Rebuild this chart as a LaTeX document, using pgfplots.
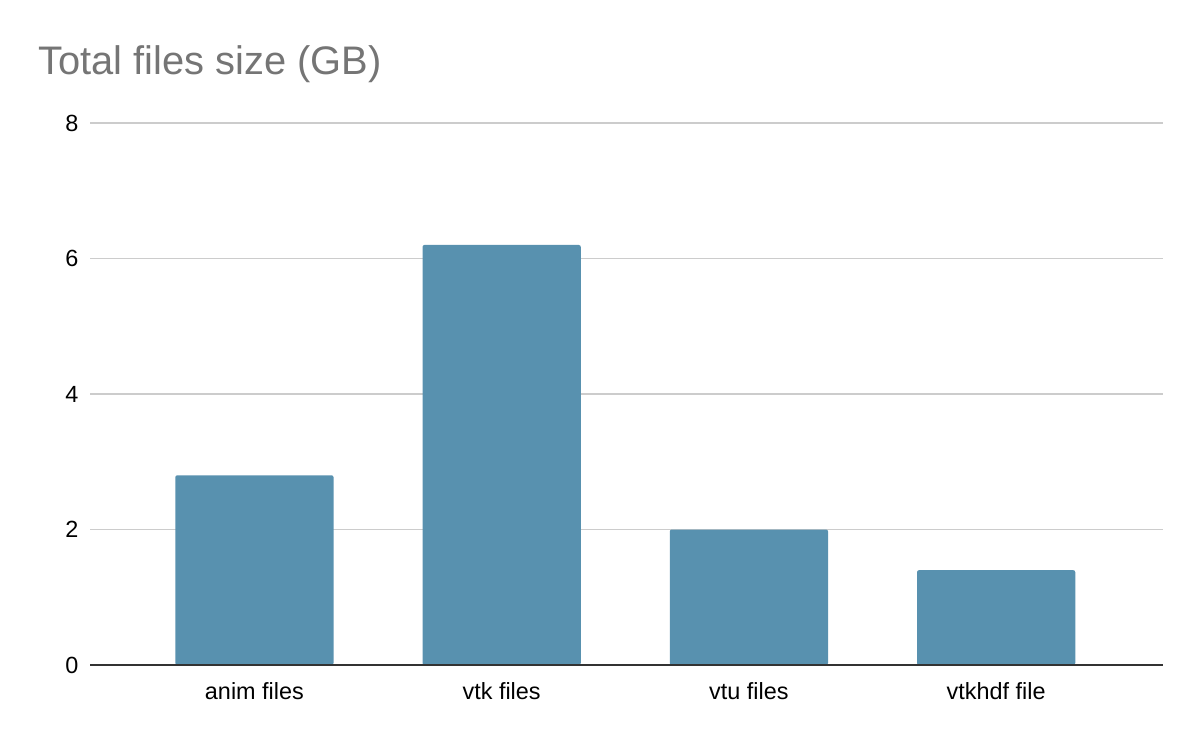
\documentclass[border=0pt]{standalone}
\usepackage{fontspec}
\setmainfont{Liberation Sans}
\usepackage{pgfplots}
\pgfplotsset{compat=1.18}

\definecolor{barblue}{HTML}{5891AF}
\definecolor{titlegray}{HTML}{757575}
\definecolor{gridgray}{HTML}{CCCCCC}
\definecolor{zeroline}{HTML}{333333}

\begin{document}
\begin{tikzpicture}
\path[use as bounding box] (0,0) rectangle (1200bp,-742bp);

\node[anchor=base west, inner sep=0, text=titlegray,
      font=\fontsize{40}{46}\selectfont] at (38bp,-74.5bp) {Total files size (GB)};

\begin{axis}[
  at={(90bp,-665bp)}, anchor=south west,
  scale only axis,
  width=1073bp, height=542bp,
  xmin=-0.665, xmax=3.675,
  ymin=0, ymax=8,
  ytick={0,2,4,6,8},
  xtick=data,
  xticklabels={anim files, vtk files, vtu files, vtkhdf file},
  major tick length=0,
  axis line style={draw=none},
  ymajorgrids,
  grid style={gridgray, line width=1.2bp},
  /pgf/number format/assume math mode=true,
  ticklabel style={font=\fontsize{23.5}{27}\selectfont, text=black},
  yticklabel style={xshift=-8bp},
  xticklabel style={yshift=-14bp},
  ybar, bar width=0.64,
]
\addplot[fill=barblue, draw=none, rounded corners=2bp] coordinates {
  (0,2.8) (1,6.2) (2,2.0) (3,1.4)
};
\draw[zeroline, line width=1.8bp] (rel axis cs:0,0) -- (rel axis cs:1,0);
\end{axis}
\end{tikzpicture}
\end{document}
